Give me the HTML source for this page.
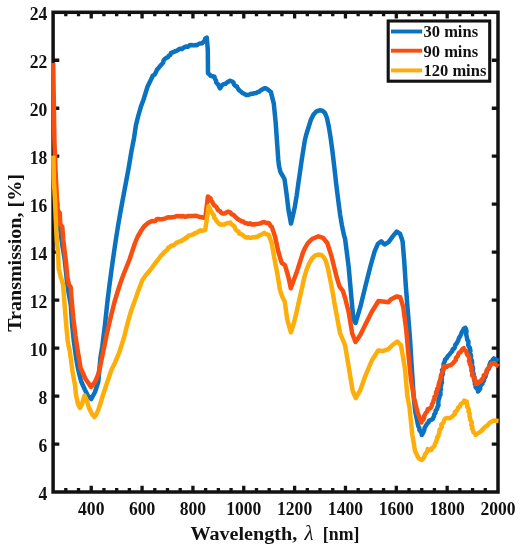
<!DOCTYPE html>
<html><head><meta charset="utf-8"><style>
html,body{margin:0;padding:0;background:#fff;}
body{width:522px;height:550px;overflow:hidden;}
svg{display:block;}
</style></head><body><svg width="522" height="550" viewBox="0 0 522 550"><path d="M65.81,492.00v-4.0M65.81,12.30v4.0M78.52,492.00v-4.0M78.52,12.30v4.0M91.23,492.00v-6.2M91.23,12.30v6.2M103.95,492.00v-4.0M103.95,12.30v4.0M116.66,492.00v-4.0M116.66,12.30v4.0M129.37,492.00v-4.0M129.37,12.30v4.0M142.08,492.00v-6.2M142.08,12.30v6.2M154.79,492.00v-4.0M154.79,12.30v4.0M167.50,492.00v-4.0M167.50,12.30v4.0M180.21,492.00v-4.0M180.21,12.30v4.0M192.93,492.00v-6.2M192.93,12.30v6.2M205.64,492.00v-4.0M205.64,12.30v4.0M218.35,492.00v-4.0M218.35,12.30v4.0M231.06,492.00v-4.0M231.06,12.30v4.0M243.77,492.00v-6.2M243.77,12.30v6.2M256.48,492.00v-4.0M256.48,12.30v4.0M269.19,492.00v-4.0M269.19,12.30v4.0M281.91,492.00v-4.0M281.91,12.30v4.0M294.62,492.00v-6.2M294.62,12.30v6.2M307.33,492.00v-4.0M307.33,12.30v4.0M320.04,492.00v-4.0M320.04,12.30v4.0M332.75,492.00v-4.0M332.75,12.30v4.0M345.46,492.00v-6.2M345.46,12.30v6.2M358.17,492.00v-4.0M358.17,12.30v4.0M370.89,492.00v-4.0M370.89,12.30v4.0M383.60,492.00v-4.0M383.60,12.30v4.0M396.31,492.00v-6.2M396.31,12.30v6.2M409.02,492.00v-4.0M409.02,12.30v4.0M421.73,492.00v-4.0M421.73,12.30v4.0M434.44,492.00v-4.0M434.44,12.30v4.0M447.15,492.00v-6.2M447.15,12.30v6.2M459.87,492.00v-4.0M459.87,12.30v4.0M472.58,492.00v-4.0M472.58,12.30v4.0M485.29,492.00v-4.0M485.29,12.30v4.0M53.10,444.03h6.2M498.00,444.03h-6.2M53.10,396.06h6.2M498.00,396.06h-6.2M53.10,348.09h6.2M498.00,348.09h-6.2M53.10,300.12h6.2M498.00,300.12h-6.2M53.10,252.15h6.2M498.00,252.15h-6.2M53.10,204.18h6.2M498.00,204.18h-6.2M53.10,156.21h6.2M498.00,156.21h-6.2M53.10,108.24h6.2M498.00,108.24h-6.2M53.10,60.27h6.2M498.00,60.27h-6.2" stroke="#121212" stroke-width="3.3" fill="none"/><rect x="53.1" y="12.3" width="444.90" height="479.70" fill="none" stroke="#121212" stroke-width="3.5"/><clipPath id="c"><rect x="50.1" y="12.3" width="450.9" height="479.7"/></clipPath><g clip-path="url(#c)" fill="none" stroke-width="4.5" stroke-linejoin="round" stroke-linecap="butt"><polyline stroke="#0a72bf" points="55.3,178.0 55.6,190.0 56.0,200.0 57.0,212.0 58.2,223.6 60.5,232.0 62.3,245.0 64.5,258.0 65.8,270.0 67.0,282.0 68.5,292.0 70.8,305.0 72.0,323.6 73.8,341.0 76.3,359.1 78.3,370.0 81.0,381.0 85.0,390.0 88.0,396.0 91.3,399.0 95.0,392.0 98.3,381.8 100.5,357.3 102.3,346.4 105.0,324.5 107.6,300.0 109.5,285.0 111.5,270.0 113.6,255.0 115.8,240.0 118.2,225.0 120.8,210.0 123.6,195.0 126.4,180.0 128.3,170.0 130.0,160.0 131.5,150.9 134.0,138.2 135.9,125.4 138.4,115.3 141.0,106.4 143.4,100.0 147.6,86.5 152.0,77.6 152.7,75.7 154.6,74.6 155.6,72.9 156.4,71.0 157.2,69.4 158.5,68.1 159.6,66.7 160.7,65.3 162.0,64.0 163.2,62.6 163.5,60.6 164.6,59.1 166.2,58.0 167.8,57.2 168.8,55.7 170.4,54.9 171.0,53.0 172.8,52.4 174.6,51.5 176.5,50.9 178.2,49.8 179.9,48.7 182.1,48.9 183.7,47.6 186.0,46.5 187.9,46.8 189.5,45.3 191.3,45.0 193.2,45.4 195.0,45.1 196.9,45.2 198.5,44.0 200.2,43.4 202.0,43.3 203.2,42.1 204.5,41.0 205.1,38.9 206.8,37.6 207.8,50.0 208.0,73.3 209.5,74.3 210.5,75.9 212.5,76.3 214.4,76.8 215.0,78.7 216.0,80.6 216.3,82.6 217.6,83.8 218.5,85.2 219.2,86.8 220.1,88.3 221.2,86.7 222.2,85.0 224.0,84.1 225.7,83.7 226.9,82.5 228.4,81.7 229.7,80.7 231.8,81.3 233.5,82.6 233.9,84.3 235.0,85.6 236.8,86.3 237.5,87.8 238.3,89.3 239.7,90.7 241.2,91.8 242.6,93.2 244.5,93.8 246.0,95.0 247.8,95.1 249.4,94.6 251.0,93.8 252.7,93.7 254.3,93.3 256.1,93.1 257.5,92.1 259.2,91.7 260.4,90.5 261.8,89.8 263.2,88.9 265.1,88.2 267.0,88.9 270.9,92.1 273.8,103.6 275.7,122.8 277.6,150.0 278.3,160.0 279.0,166.0 280.4,172.0 282.5,175.5 284.5,179.0 286.7,195.0 288.5,210.0 291.0,223.5 292.8,216.0 294.8,206.9 296.6,196.0 298.4,183.0 300.3,170.0 301.7,160.0 303.3,150.0 304.9,140.0 306.3,134.5 308.0,129.0 310.8,120.0 313.5,114.5 316.5,111.3 319.5,110.3 322.5,110.8 324.8,112.7 326.8,117.5 328.6,125.4 330.5,137.0 332.4,150.9 334.3,167.0 336.2,184.0 338.2,200.0 340.1,214.5 341.8,224.7 343.9,234.9 345.1,238.9 348.7,267.3 351.5,299.0 353.4,319.3 355.5,323.0 360.4,306.7 365.4,286.3 370.5,266.0 374.7,251.1 378.0,243.7 381.3,241.3 384.5,244.5 388.6,242.1 392.7,236.4 396.8,231.5 400.1,233.9 402.6,241.3 404.2,260.9 405.8,285.5 407.3,305.0 408.7,322.0 410.1,340.0 411.3,360.0 412.6,380.0 413.8,398.0 415.3,411.8 418.3,426.3 419.4,427.9 419.4,430.0 420.6,431.5 421.6,433.2 421.9,435.1 422.7,433.4 423.6,431.7 424.3,429.9 424.6,428.0 425.5,426.3 426.4,424.8 427.4,423.4 428.6,422.2 429.2,420.5 431.0,419.8 432.8,419.1 433.3,417.5 434.1,416.0 434.2,414.3 435.5,413.0 435.6,410.8 437.1,409.1 437.5,407.0 438.5,405.3 438.3,403.4 438.4,401.6 438.5,399.7 439.3,398.0 439.5,396.3 440.5,394.7 440.4,392.9 440.3,391.2 441.0,389.5 440.4,387.7 441.0,386.0 441.2,384.3 442.0,382.6 441.7,380.8 441.7,379.0 441.6,377.2 442.2,375.5 442.9,373.8 442.5,372.0 442.0,370.3 443.3,368.8 443.5,367.3 443.8,365.7 443.5,364.0 444.6,361.9 445.0,359.5 446.5,358.4 447.3,356.9 448.4,355.5 449.8,354.1 450.9,352.5 452.3,351.1 452.6,349.3 454.4,348.4 454.9,346.6 455.3,344.9 456.5,343.6 457.3,342.1 458.2,340.6 458.6,339.0 459.3,337.5 460.1,336.2 460.9,334.7 461.5,333.2 462.0,331.7 463.1,330.4 463.8,328.7 465.4,327.8 466.1,329.4 466.5,331.1 466.3,332.9 466.2,334.7 466.7,336.4 467.0,338.1 467.3,339.8 468.4,341.3 468.4,343.1 468.2,344.8 468.7,346.4 469.8,347.9 470.2,349.5 470.4,351.2 469.7,353.0 470.6,354.5 471.1,356.1 470.7,357.9 471.3,359.4 472.0,361.0 472.1,362.7 471.9,364.4 472.2,366.0 472.9,367.6 473.0,369.2 472.6,370.9 473.2,372.5 473.6,374.1 473.7,375.8 474.5,377.3 474.2,379.0 474.4,380.6 475.0,382.2 474.8,383.9 476.0,385.2 475.6,387.2 476.8,388.5 477.8,389.8 478.1,391.5 479.1,390.1 480.2,388.7 480.1,386.6 481.0,385.1 482.4,383.9 482.6,382.0 484.0,380.6 483.9,378.6 485.2,377.2 485.8,375.5 486.2,373.7 486.9,372.0 487.1,370.2 488.7,368.8 489.1,367.0 489.4,365.2 490.0,363.5 490.7,362.0 492.1,361.1 492.8,359.6 493.9,358.4 498.6,361.0"/><polyline stroke="#f84f10" points="53.2,62.9 54.4,140.0 55.5,170.0 57.0,200.0 57.8,210.5 59.8,213.0 60.3,224.0 62.3,227.0 63.3,240.0 65.0,254.5 66.0,262.0 67.4,277.4 68.9,284.5 70.8,287.5 71.3,296.3 73.3,318.0 75.5,336.0 77.2,347.3 80.6,368.0 85.3,378.5 91.0,387.0 95.0,382.0 98.0,375.0 99.8,368.0 103.2,351.8 106.8,334.0 110.5,318.0 114.5,302.0 117.5,292.0 120.5,282.7 123.5,274.5 126.5,267.0 129.5,259.5 132.5,250.5 135.0,243.0 137.5,237.0 141.0,231.0 144.0,226.5 147.5,223.3 152.0,221.0 153.7,221.3 155.3,220.9 156.7,219.3 158.3,219.0 160.0,219.2 161.8,219.3 163.6,218.8 165.3,218.3 167.0,217.7 168.6,217.2 170.2,217.4 171.8,217.2 173.4,217.0 175.0,216.7 176.6,216.1 178.2,216.3 179.8,216.1 181.4,216.5 183.0,216.0 184.8,216.7 186.5,216.6 188.3,216.0 190.0,215.9 191.7,216.0 193.5,215.9 195.3,215.8 197.0,216.0 198.7,216.8 200.4,217.1 202.1,217.3 203.7,217.7 205.3,218.2 207.9,196.4 210.7,198.6 211.0,200.5 212.3,201.9 213.1,203.5 214.0,205.1 215.4,206.2 216.7,207.4 217.5,209.0 218.4,210.5 220.0,211.1 221.0,212.5 222.3,213.5 224.5,213.5 226.3,212.5 228.2,211.6 230.2,212.3 231.5,214.3 233.6,214.9 234.7,216.3 236.0,217.4 237.2,218.6 238.6,219.6 240.2,220.4 241.7,221.5 243.5,221.6 244.8,223.1 246.7,223.2 248.2,224.1 250.1,223.3 251.6,224.4 253.3,224.3 255.0,224.4 256.5,223.9 258.2,223.8 259.8,223.6 262.0,222.7 264.2,221.9 266.3,223.0 268.6,223.0 269.7,224.3 270.4,225.9 271.8,226.9 275.1,236.7 278.4,252.0 281.7,262.9 284.9,265.1 288.2,276.0 290.8,288.3 293.8,280.0 297.3,270.4 300.0,262.0 303.0,252.5 305.0,248.0 307.7,243.3 312.0,239.0 318.4,236.3 323.0,237.8 327.3,243.0 331.4,255.9 334.1,266.8 336.8,277.7 339.5,286.4 342.8,290.8 345.1,298.0 348.7,312.2 352.2,333.5 355.5,342.0 360.4,334.7 365.4,324.5 371.8,311.8 378.5,301.0 384.8,301.8 388.3,302.2 391.0,299.2 396.9,296.4 400.3,297.3 403.2,306.8 406.2,329.6 408.0,350.0 411.0,380.0 414.1,398.2 417.7,412.7 421.4,422.5 421.9,420.8 423.3,419.5 424.1,417.9 424.2,416.1 425.0,414.5 426.0,412.7 427.3,411.2 427.7,409.1 429.5,408.6 431.0,407.5 431.7,405.8 432.1,403.9 433.2,402.3 433.5,400.5 434.5,398.9 434.4,396.9 435.9,395.5 435.9,393.6 436.1,391.9 437.4,390.7 437.1,388.9 438.4,387.6 438.5,385.9 438.7,384.3 439.2,382.7 439.7,381.1 440.3,379.6 440.7,378.1 440.8,376.4 441.1,374.8 442.0,373.4 442.4,371.8 443.5,370.2 443.7,368.3 444.1,366.4 446.8,367.0 448.2,365.6 450.1,365.3 451.8,364.4 453.2,363.0 454.4,361.5 455.8,360.1 455.9,357.8 457.6,356.5 458.2,354.6 458.9,352.9 460.6,352.2 461.3,350.6 462.4,349.2 463.8,348.2 464.3,350.0 466.1,351.0 466.5,352.8 467.1,354.6 468.4,355.9 469.1,357.4 469.5,359.1 468.9,360.9 469.9,362.4 469.8,364.1 471.1,365.5 471.0,367.2 471.6,368.7 471.3,370.5 472.4,372.0 472.2,373.7 472.2,375.6 474.1,376.9 473.8,378.9 475.4,380.3 475.7,382.1 476.0,383.9 477.9,383.4 479.2,381.7 481.1,381.3 481.6,379.6 483.0,378.5 483.5,376.8 483.9,375.0 485.9,374.2 486.2,372.4 486.6,370.7 487.3,369.1 488.6,367.8 489.7,366.5 490.7,365.2 491.3,363.5 493.2,363.2 495.0,364.0 498.6,366.5"/><polyline stroke="#fdae0a" points="53.3,155.6 53.8,180.0 55.0,200.0 55.8,220.0 56.8,240.0 58.2,254.5 58.7,268.7 60.9,277.4 63.1,284.7 64.5,303.6 66.0,322.5 67.6,340.0 68.6,346.0 69.6,350.0 70.6,357.0 72.4,370.9 75.0,385.0 76.0,395.0 78.0,404.0 80.0,408.0 82.0,404.0 84.5,395.5 87.0,401.0 89.0,408.0 92.0,414.0 94.5,417.0 97.0,413.0 99.0,408.0 103.0,395.0 107.0,383.0 111.4,370.0 115.0,362.7 119.5,351.8 124.1,337.3 127.7,322.7 131.4,310.0 135.1,300.0 138.6,290.0 142.4,280.0 146.0,275.0 150.0,270.3 155.0,263.5 160.0,257.2 161.0,255.5 162.5,254.4 163.6,252.8 165.0,251.5 166.3,250.5 167.6,249.4 168.3,247.7 170.0,247.0 171.3,245.4 173.6,245.4 175.0,244.0 176.5,242.8 178.2,241.9 180.0,241.3 181.8,241.1 182.8,239.6 184.5,239.2 185.7,237.9 187.2,237.3 188.3,235.8 190.0,235.4 191.5,234.9 193.1,234.5 194.4,233.4 195.9,233.0 197.4,232.2 198.7,231.3 200.2,230.3 202.1,230.9 203.7,230.3 205.3,229.8 208.6,206.2 211.8,212.7 212.9,214.1 214.1,215.5 214.0,217.6 215.4,218.8 216.2,220.4 217.5,222.1 218.8,223.6 220.6,224.7 222.5,224.6 224.3,224.5 226.0,223.6 228.2,223.0 230.4,222.6 231.5,224.3 233.3,225.4 234.7,226.9 235.3,228.9 236.5,230.5 238.5,231.5 239.1,233.5 241.2,234.1 243.0,235.3 244.6,236.7 246.1,237.6 247.9,237.2 249.4,237.7 251.1,237.8 252.7,237.3 254.4,237.3 256.0,236.8 257.7,236.7 259.2,235.5 261.0,234.9 262.6,233.9 264.2,232.8 266.2,234.2 268.6,234.6 271.8,243.3 274.0,256.4 277.3,273.5 280.0,290.0 282.2,296.5 284.7,301.5 287.2,319.3 290.9,332.3 293.3,325.0 295.8,315.4 298.1,305.0 299.8,297.5 302.0,288.0 304.3,277.3 306.5,270.0 309.0,263.6 312.0,258.5 315.0,255.7 318.4,254.5 321.5,255.0 324.0,257.5 326.0,261.5 328.1,269.0 330.3,279.9 332.4,290.8 334.6,303.9 335.7,309.8 340.0,333.0 345.1,345.3 348.9,368.2 352.7,391.0 355.8,398.2 360.4,389.8 365.4,375.8 371.8,360.5 378.2,350.4 383.3,350.9 388.3,349.1 392.2,345.3 397.3,341.5 401.0,345.3 404.9,368.2 407.4,396.2 409.5,407.3 412.3,434.5 415.0,450.9 418.6,458.2 421.9,460.0 423.2,458.3 424.5,456.6 425.0,454.5 426.3,452.9 427.4,451.2 427.7,449.1 429.5,449.8 431.4,450.0 431.9,448.2 433.6,447.0 434.7,445.5 435.0,443.6 436.1,442.3 436.3,440.6 437.1,439.2 437.0,437.4 438.4,436.2 438.6,434.5 439.2,433.0 439.4,431.3 439.6,429.6 441.2,428.4 441.9,426.9 441.2,425.0 442.3,423.6 443.6,422.5 444.0,420.8 444.6,419.3 445.9,418.2 447.7,417.9 449.5,418.2 451.6,417.2 453.2,415.5 454.8,414.2 454.9,411.9 456.7,410.8 457.7,409.1 458.1,407.4 459.8,406.5 460.3,404.8 461.4,403.6 463.2,402.5 464.2,400.6 466.8,401.8 466.4,403.5 467.4,405.0 467.0,406.8 468.3,408.2 468.9,409.8 468.5,411.6 469.5,413.0 469.6,414.7 469.5,416.4 470.1,418.1 470.2,419.8 471.3,421.4 471.9,423.0 471.2,425.0 472.4,426.5 471.9,428.5 473.0,430.0 473.3,431.9 474.8,433.3 475.5,435.0 476.9,434.0 478.4,433.0 479.9,432.0 481.3,430.9 482.5,429.6 483.8,428.3 485.0,427.0 486.4,426.0 487.9,425.2 488.8,423.6 490.0,422.5 492.0,421.4 494.0,420.5 498.6,421.0"/></g><g font-family="Liberation Serif, serif" font-weight="bold" font-size="17.6" fill="#111"><text transform="translate(47.3,499.90) scale(1,1.12)" text-anchor="end">4</text><text transform="translate(47.3,451.93) scale(1,1.12)" text-anchor="end">6</text><text transform="translate(47.3,403.96) scale(1,1.12)" text-anchor="end">8</text><text transform="translate(47.3,355.99) scale(1,1.12)" text-anchor="end">10</text><text transform="translate(47.3,308.02) scale(1,1.12)" text-anchor="end">12</text><text transform="translate(47.3,260.05) scale(1,1.12)" text-anchor="end">14</text><text transform="translate(47.3,212.08) scale(1,1.12)" text-anchor="end">16</text><text transform="translate(47.3,164.11) scale(1,1.12)" text-anchor="end">18</text><text transform="translate(47.3,116.14) scale(1,1.12)" text-anchor="end">20</text><text transform="translate(47.3,68.17) scale(1,1.12)" text-anchor="end">22</text><text transform="translate(47.3,20.20) scale(1,1.12)" text-anchor="end">24</text><text transform="translate(91.23,514.7) scale(1,1.12)" text-anchor="middle">400</text><text transform="translate(142.08,514.7) scale(1,1.12)" text-anchor="middle">600</text><text transform="translate(192.93,514.7) scale(1,1.12)" text-anchor="middle">800</text><text transform="translate(243.77,514.7) scale(1,1.12)" text-anchor="middle">1000</text><text transform="translate(294.62,514.7) scale(1,1.12)" text-anchor="middle">1200</text><text transform="translate(345.46,514.7) scale(1,1.12)" text-anchor="middle">1400</text><text transform="translate(396.31,514.7) scale(1,1.12)" text-anchor="middle">1600</text><text transform="translate(447.15,514.7) scale(1,1.12)" text-anchor="middle">1800</text><text transform="translate(498.00,514.7) scale(1,1.12)" text-anchor="middle">2000</text></g><g font-family="Liberation Serif, serif" font-size="19.6" fill="#111"><text x="190.4" y="539.5" textLength="106.8" lengthAdjust="spacingAndGlyphs" font-weight="bold">Wavelength,</text><text x="304.6" y="539.5" font-size="21" font-style="italic">λ</text><text x="322.8" y="539.5" textLength="36.6" lengthAdjust="spacingAndGlyphs" font-weight="bold">[nm]</text></g><text transform="translate(21,331.8) rotate(-90)" textLength="157.7" lengthAdjust="spacingAndGlyphs" font-family="Liberation Serif, serif" font-weight="bold" font-size="19.6" fill="#111">Transmission, [%]</text><rect x="388.2" y="21" width="101.5" height="60.2" fill="#fff" stroke="#121212" stroke-width="3.1"/><line x1="391" y1="31.5" x2="422.2" y2="31.5" stroke="#0a72bf" stroke-width="3.9"/><text x="423.5" y="37.1" font-family="Liberation Serif, serif" font-weight="bold" font-size="16.5" fill="#111">30 mins</text><line x1="391" y1="50.7" x2="422.2" y2="50.7" stroke="#f84f10" stroke-width="3.9"/><text x="423.5" y="56.8" font-family="Liberation Serif, serif" font-weight="bold" font-size="16.5" fill="#111">90 mins</text><line x1="391" y1="70.4" x2="422.2" y2="70.4" stroke="#fdae0a" stroke-width="3.9"/><text x="423.5" y="76.3" font-family="Liberation Serif, serif" font-weight="bold" font-size="16.5" fill="#111">120 mins</text></svg></body></html>
